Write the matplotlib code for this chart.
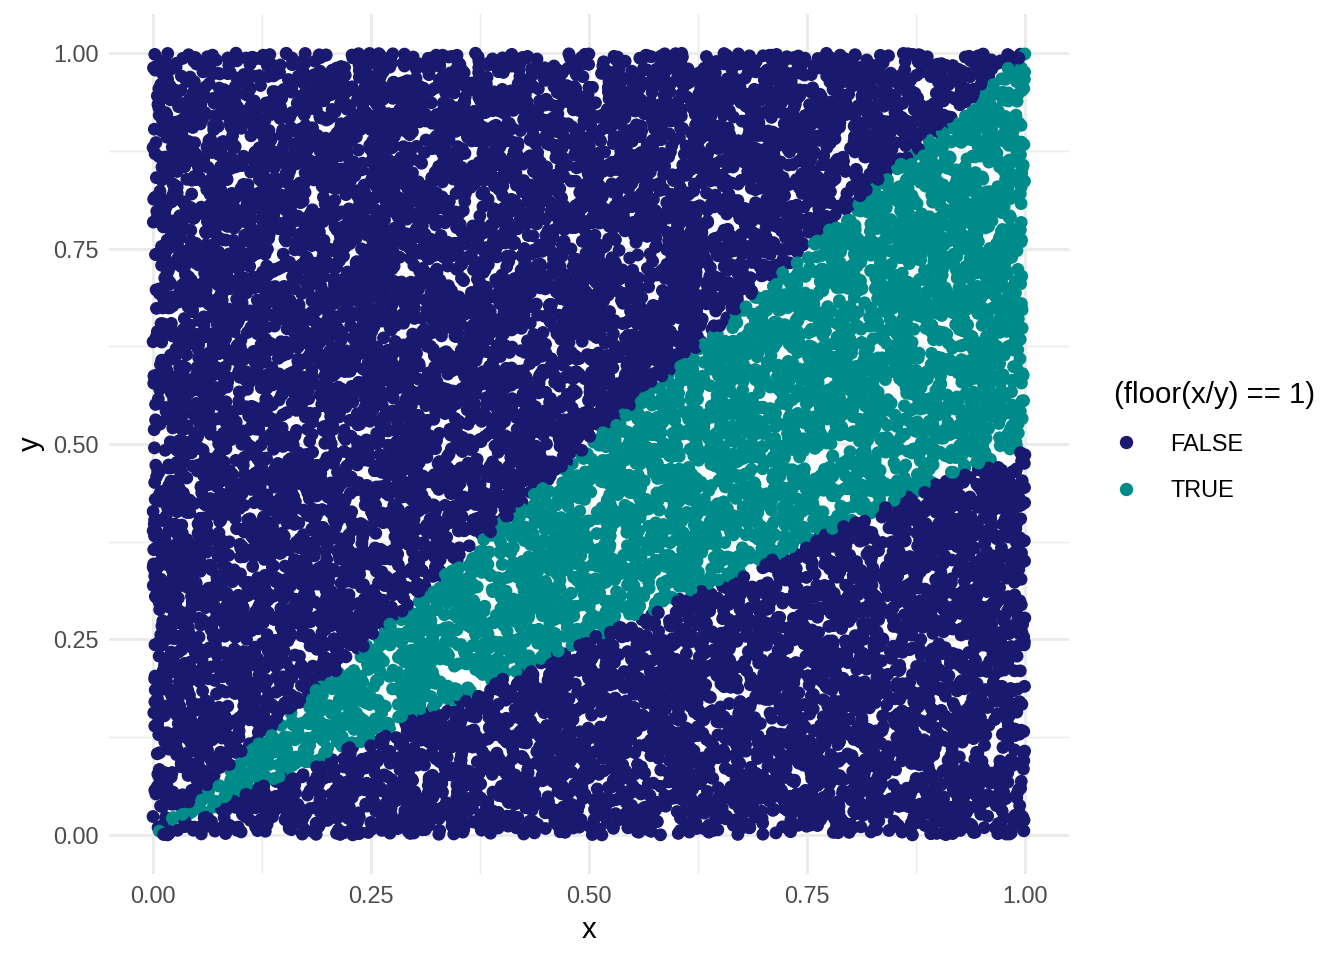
import numpy as np
import matplotlib
matplotlib.use("Agg")
import matplotlib.pyplot as plt
from matplotlib.lines import Line2D

plt.rcParams['font.family'] = ['Liberation Sans', 'DejaVu Sans']

# the source is a big sample of uniform draws on the unit square; single points can't
# be read off the picture, so the sample is rebuilt with a fixed seed at a similar density
n_points = 15000
rng = np.random.default_rng(1)
x = rng.uniform(0, 1, n_points)
y = rng.uniform(0, 1, n_points)

groups = ["FALSE", "TRUE"]
group_colors = {"FALSE": "#191970", "TRUE": "#008B8B"}
ticks = [0.0, 0.25, 0.5, 0.75, 1.0]
tick_labels = ["0.00", "0.25", "0.50", "0.75", "1.00"]

flag = np.floor(x / y) == 1
colors = np.where(flag, group_colors["TRUE"], group_colors["FALSE"])

fig = plt.figure(figsize=(7, 5), dpi=192)
ax = fig.add_axes([0.0814, 0.0896, 0.7137, 0.8958])

ax.scatter(x, y, c=colors, edgecolors=colors, s=18.5, linewidths=0.5, zorder=3)

ax.set_xlim(-0.05, 1.05)
ax.set_ylim(-0.05, 1.05)
ax.set_xticks(ticks)
ax.set_xticklabels(tick_labels)
ax.set_yticks(ticks)
ax.set_yticklabels(tick_labels)
ax.set_xticks([0.125, 0.375, 0.625, 0.875], minor=True)
ax.set_yticks([0.125, 0.375, 0.625, 0.875], minor=True)
ax.grid(which="major", color="#EBEBEB", linewidth=1.1, zorder=0)
ax.grid(which="minor", color="#EBEBEB", linewidth=0.55, zorder=0)
ax.set_axisbelow(True)
for sp in ax.spines.values():
    sp.set_visible(False)
ax.tick_params(which="both", length=0, labelsize=8.8, labelcolor="#4D4D4D", pad=4)

ax.set_xlabel("x", fontsize=11, labelpad=3)
ax.set_ylabel("y", fontsize=11, labelpad=3)

handles = [Line2D([], [], marker="o", linestyle="", markersize=5.0,
                  markerfacecolor=group_colors[g], markeredgewidth=0, label=g)
           for g in groups]
leg = fig.legend(handles=handles, title="(floor(x/y) == 1)", loc="center left",
                 bbox_to_anchor=(0.813, 0.540), frameon=False, fontsize=8.8,
                 title_fontsize=11, handlelength=1.0, handletextpad=1.4,
                 labelspacing=1.0)
leg._legend_box.align = "left"

fig.savefig("out.png", dpi=192)
